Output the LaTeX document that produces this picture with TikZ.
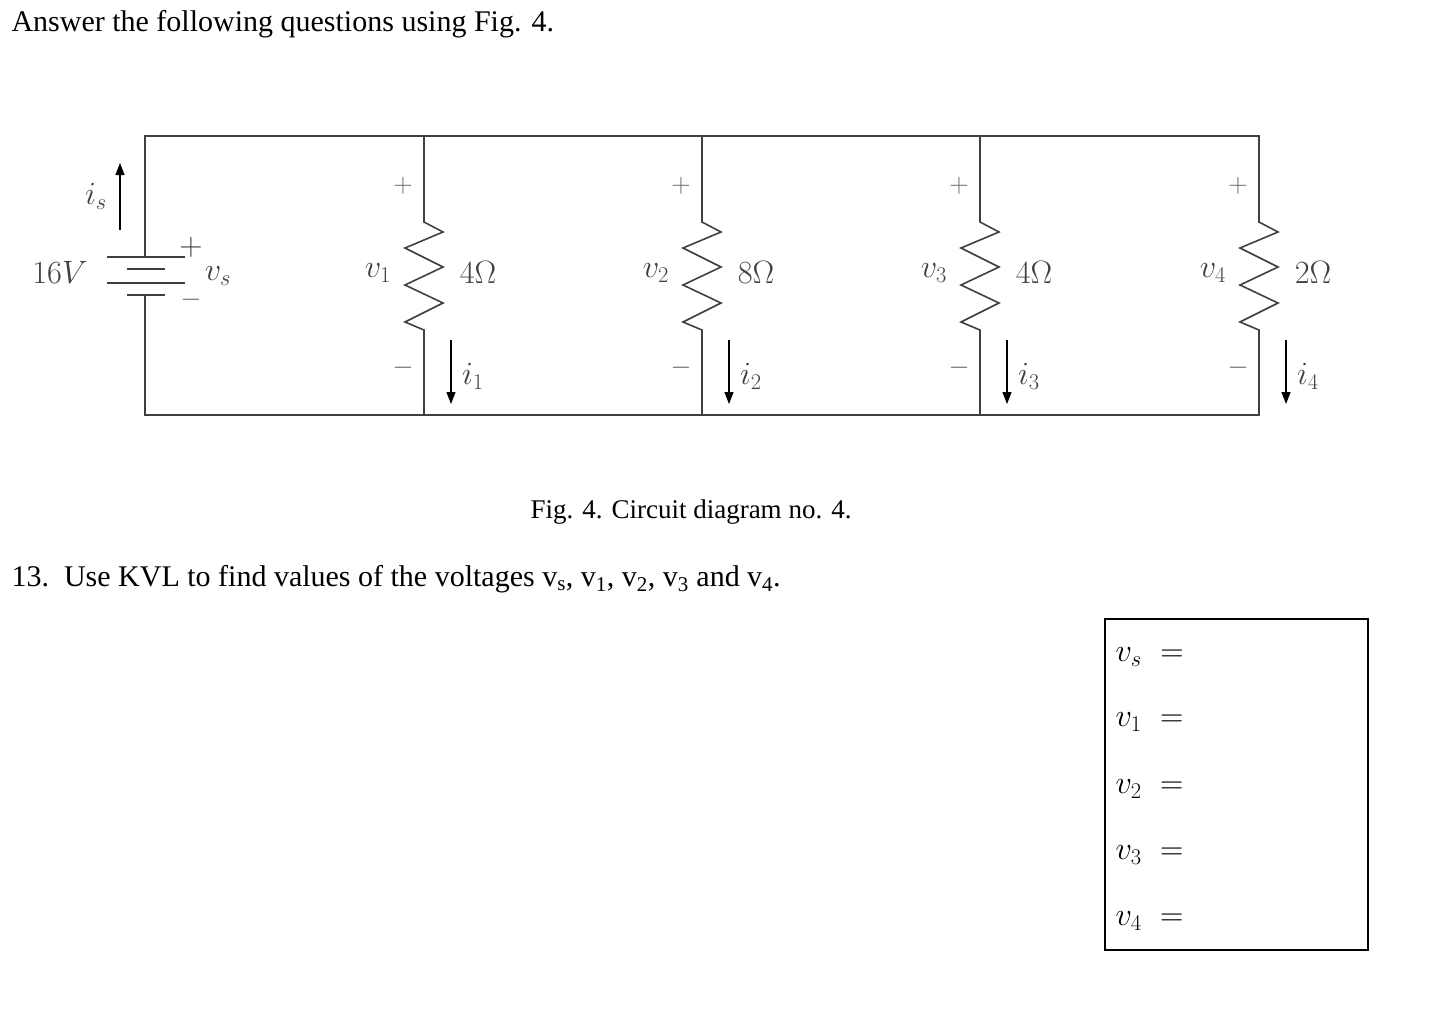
\documentclass[tikz,border=0pt]{standalone}
\usepackage{graphicx}
\usepackage{fontspec}
\newfontfamily\txt{Liberation Serif}
\usetikzlibrary{arrows.meta}
\newcommand{\MyBig}[1]{\scalebox{1.3}{#1}}
\begin{document}
\begin{tikzpicture}[x=1pt,y=-1pt,
  wire/.style={line width=1.6pt,black!75},
  lab/.style={font=\fontsize{24}{26}\selectfont,text=black!75},
  pm/.style={font=\fontsize{20}{22}\selectfont,text=black!60},
  txtn/.style={font=\txt\fontsize{30}{33}\selectfont,anchor=west},
  cur/.style={line width=1.2pt,-{Triangle[length=12pt,width=9pt]}}]
\useasboundingbox (0,0) rectangle (1444,1018);
\node[txtn] (h) at (8,24) {Answer the following questions using Fig. 4.};
% wires
\coordinate (tl) at (145,136); \coordinate (bl) at (145,415);
\coordinate (bt) at (145,257); \coordinate (bb) at (145,295);
\draw[wire] (bt) -- (tl) -- (1259,136) -- (1259,222);
\draw[wire] (bb) -- (bl) -- (1259,415) -- (1259,330);
% battery
\draw[wire] (107,257) -- (185,257);
\draw[wire] (127,269) -- (165,269);
\draw[wire] (107,283) -- (185,283);
\draw[wire] (127,295) -- (165,295);
\node[lab] (v16) at (60,272) {\MyBig{$16V$}};
\node[lab] (vs) at (218,276) {\MyBig{$v_s$}};
\node[lab] (bp) at (191,247) {\MyBig{$+$}};
\node[pm] (bm) at (191,300) {\MyBig{$-$}};
\coordinate (is1) at (120,230); \coordinate (is2) at (120,163);
\draw[cur] (is1) -- (is2);
\node[lab] (isl) at (96,196) {\MyBig{$i_s$}};
% resistors
\foreach \x/\k/\r in {424/1/4,702/2/8,980/3/4,1259/4/2}{
  \draw[wire] (\x,136) -- (\x,222) -- (\x+19,232) -- (\x-19,248) -- (\x+19,267) -- (\x-19,285) -- (\x+19,303) -- (\x-19,322) -- (\x,330) -- (\x,415);
  \node[pm] (p\k) at (\x-21,186) {\MyBig{$+$}};
  \node[pm] (m\k) at (\x-21,368) {\MyBig{$-$}};
  \node[lab] (v\k) at (\x-46,273) {\MyBig{$v_\k$}};
  \node[lab] (r\k) at (\x+54,272) {\MyBig{$\r\Omega$}};
  \coordinate (a\k) at (\x+27,340); \coordinate (b\k) at (\x+27,404);
  \draw[cur] (a\k) -- (b\k);
  \node[lab] (i\k) at (\x+49,376) {\MyBig{$i_\k$}};
}
\node[font=\txt\fontsize{27}{30}\selectfont] (cap) at (691,512) {Fig. 4. Circuit diagram no. 4.};
\node[txtn] (q) at (8,579) {13.\ \ Use KVL to find values of the voltages v\textsubscript{s}, v\textsubscript{1}, v\textsubscript{2}, v\textsubscript{3} and v\textsubscript{4}.};
\draw[line width=1.5pt] (1105,619) rectangle (1368,950);
\foreach \y/\s in {657/s,722/1,789/2,855/3,921/4}
  \node[anchor=west,font=\fontsize{24}{26}\selectfont] (e\s) at (1112,\y) {\MyBig{$v_\s\ =$}};
\end{tikzpicture}
\end{document}
